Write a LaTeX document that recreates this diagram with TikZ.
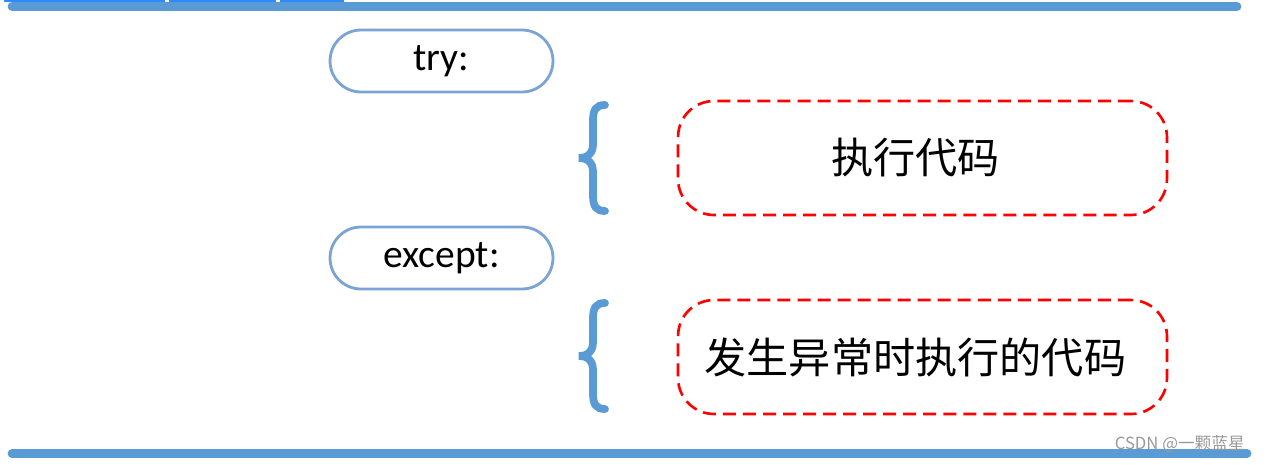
\documentclass[tikz,border=0pt]{standalone}
\usepackage{fontspec}
\setmainfont{Carlito}
\newfontfamily\cjk{Noto Sans CJK SC}
\definecolor{barblue}{HTML}{5B9BD5}
\definecolor{edgeblue}{HTML}{7BA3D3}
\definecolor{linkblue}{HTML}{2E8BFF}
\tikzset{
    keybox/.style={draw=edgeblue, line width=1.6pt, rounded corners=0.62cm,
        minimum width=4.46cm, minimum height=1.24cm, inner sep=0pt,
        font=\fontsize{22.5}{27}\selectfont},
    codebox/.style={draw=red, line width=1.5pt, dash pattern=on 7.4pt off 4pt,
        rounded corners=0.72cm, minimum width=9.78cm, minimum height=2.28cm,
        inner sep=0pt, font=\cjk\fontsize{24}{29}\selectfont},
    curly/.style={draw=barblue, line width=4.4pt, line cap=round}
}
\begin{document}
\begin{tikzpicture}[x=0.02cm, y=-0.02cm]

    % Canvas
    \useasboundingbox (0, 0) rectangle (1267, 464);

    % Cropped links at the top
    \fill[linkblue] (4, 0) rectangle (165, 2);
    \fill[linkblue] (169, 0) rectangle (276, 2);
    \fill[linkblue] (280, 0) rectangle (344, 2);

    % Bars
    \draw[barblue, line width=5pt, line cap=round] (12, 6.5) -- (1237, 6.5);
    \draw[barblue, line width=5pt, line cap=round] (12, 453.5) -- (1247, 453.5);

    % Keywords
    \node[keybox] (try) at (441.5, 61) {try:};
    \node[keybox] (except) at (441.5, 258) {except:};

    % Code blocks
    \node[codebox] (body) at (922.5, 158) {\hspace{-8pt}执行代码};
    \node[codebox] (handler) at (922.5, 357) {\hspace{-8pt}发生异常时执行的代码};

    % Braces
    \foreach \y in {158, 356} {
        \draw[curly] (605, \y-53) .. controls (596, \y-53) and (593, \y-48) .. (593, \y-38)
            -- (593, \y-14) .. controls (593, \y-5) and (588, \y) .. (579, \y)
            .. controls (588, \y) and (593, \y+5) .. (593, \y+14)
            -- (593, \y+38) .. controls (593, \y+48) and (596, \y+53) .. (605, \y+53);
    }

    % Watermark
    \node[anchor=east, text=gray!80, font=\cjk\fontsize{9.5}{11}\selectfont] (mark)
        at (1251, 444) {CSDN @一颗蓝星};

\end{tikzpicture}
\end{document}
